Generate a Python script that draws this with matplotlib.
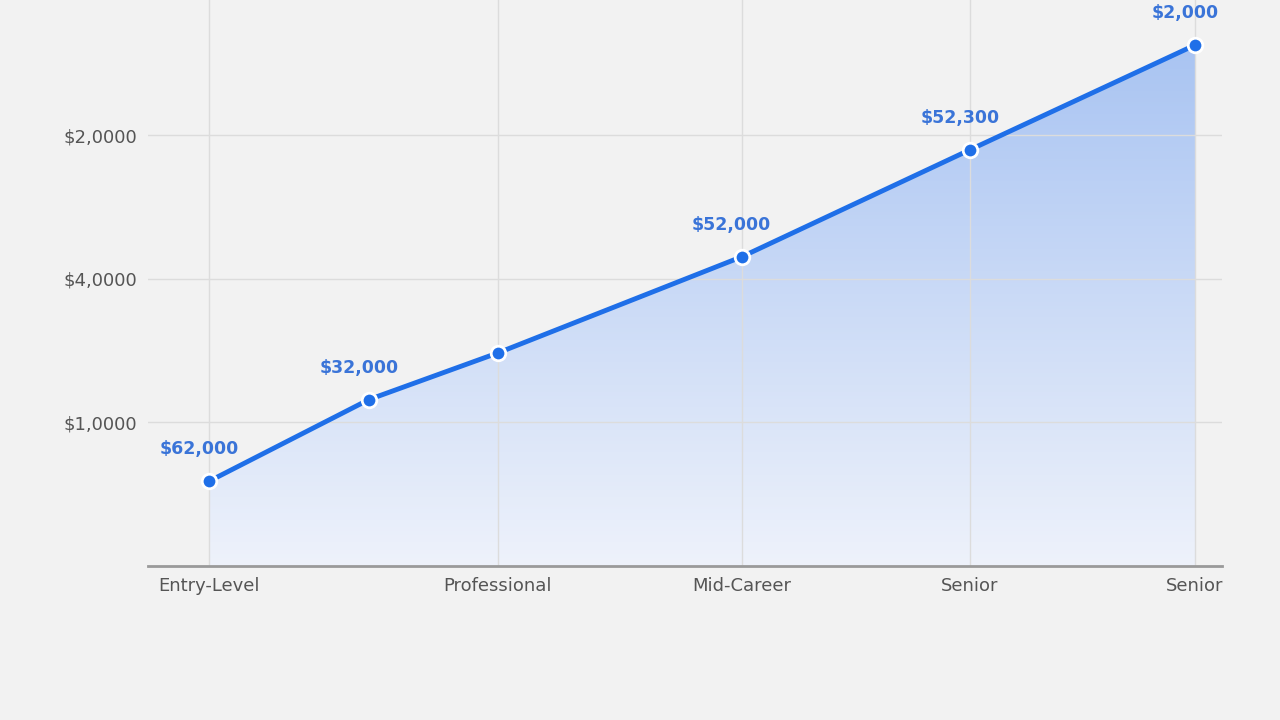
import numpy as np
import matplotlib.pyplot as plt
from matplotlib.patches import Polygon
from matplotlib.colors import LinearSegmentedColormap

# career stages (x positions on a numeric scale) and salary values
stage_x = [0.0, 0.554, 1.0, 1.844, 2.633, 3.412]
salary = [5900, 11600, 14850, 21550, 29000, 36300]
point_labels = ['$62,000', '$32,000', '', '$52,000', '$52,300', '$2,000']

tick_x = [0.0, 1.0, 1.844, 2.633, 3.412]
tick_labels = ['Entry-Level', 'Professional', 'Mid-Career', 'Senior', 'Senior']

y_ticks = [10000, 20000, 30000]
y_tick_labels = ['$1,0000', '$4,0000', '$2,0000']

bg = '#f2f2f2'
blue = '#1f6fe8'

fig = plt.figure(figsize=(12.8, 7.2), dpi=100, facecolor=bg)
ax = fig.add_axes([0.1156, 0.2139, 0.839, 0.7861], facecolor=bg)

ax.set_xlim(-0.211, 3.505)
ax.set_ylim(0, 39440)

# gradient fill under the line
grad = np.linspace(0, 1, 256).reshape(-1, 1)
cmap = LinearSegmentedColormap.from_list('fillgrad', ['#eef2fb', '#a9c4f2'])
img = ax.imshow(grad, cmap=cmap, aspect='auto', origin='lower',
                extent=[stage_x[0], stage_x[-1], 0, max(salary)], zorder=1)
verts = [(stage_x[0], 0)] + list(zip(stage_x, salary)) + [(stage_x[-1], 0)]
poly = Polygon(verts, closed=True, facecolor='none', edgecolor='none')
ax.add_patch(poly)
img.set_clip_path(poly)

ax.plot(stage_x, salary, color=blue, lw=3.5, zorder=3, solid_capstyle='round')
ax.scatter(stage_x, salary, s=110, color=blue, edgecolor='white', linewidth=2, zorder=4)

for x, y, lab in zip(stage_x, salary, point_labels):
    if lab:
        ax.text(x - 0.035, y + 2230, lab, ha='center', va='center', color='#3a74d8',
                fontsize=12.5, fontweight='bold', zorder=5)

ax.set_xticks(tick_x)
ax.set_xticklabels(tick_labels, fontsize=13, color='#555555')
ax.set_yticks(y_ticks)
ax.set_yticklabels(y_tick_labels, fontsize=13, color='#555555')
ax.tick_params(length=0)
ax.tick_params(axis='x', pad=8)
ax.tick_params(axis='y', pad=8)

ax.grid(True, color='#dcdcdc', lw=1, zorder=0)
for side in ['top', 'right', 'left']:
    ax.spines[side].set_visible(False)
ax.spines['bottom'].set_color('#9a9a9a')
ax.spines['bottom'].set_linewidth(2)

fig.savefig('out.png', dpi=100, facecolor=bg)
